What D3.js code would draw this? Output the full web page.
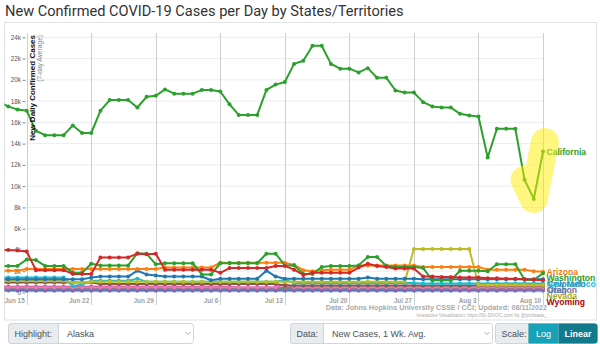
<!DOCTYPE html>
<html><head><meta charset="utf-8">
<script src="https://cdn.jsdelivr.net/npm/d3@7/dist/d3.min.js"></script>
<style>
html,body{margin:0;padding:0;background:#fff;overflow:hidden;}
svg{display:block;font-family:"Liberation Sans",Arial,sans-serif;}
</style></head><body>
<svg id="chart" width="600" height="344"></svg>
<script>
// ---------------- DATA ----------------
const firstDay = "2022-06-12";
const dayCount = 60;
const xTickDates = ["2022-06-15","2022-06-22","2022-06-29","2022-07-06","2022-07-13","2022-07-20","2022-07-27","2022-08-03","2022-08-10"];
const xTickLabels = ["Jun 15","Jun 22","Jun 29","Jul 6","Jul 13","Jul 20","Jul 27","Aug 3","Aug 10"];
const yTickValues = [0,2000,4000,6000,8000,10000,12000,14000,16000,18000,20000,22000,24000];
const yTickLabels = ["0","2k","4k","6k","8k","10k","12k","14k","16k","18k","20k","22k","24k"];

const california = [17900,17500,17200,17100,15200,14800,14800,14800,15700,15000,
 15000,17100,18100,18100,18100,17400,18400,18500,19100,18700,
 18700,18700,19050,19050,18900,17700,16700,16700,16700,19050,
 19550,19800,21500,21800,23200,23200,21500,21050,21050,20700,
 21100,20200,20200,19000,18800,18800,17900,17500,17400,17400,
 16800,16650,16550,12700,15400,15400,15400,10600,8800,13250];

const hawaii = [4000,4000,3950,3850,2100,2100,2100,2100,1750,1750,
 1750,3300,3300,3300,3300,3650,3600,3650,2150,2150,
 2150,2150,2150,2150,1850,2300,2300,2300,2300,2300,
 2500,2500,2150,1650,1850,1850,1850,1850,1850,2350,
 2700,2500,2400,2250,2250,2250,1500,1500,1450,1450,
 1400,1400,1400,1350,1350,1300,1300,1250,1200,1150];

const arizona = [2050,2050,2050,2200,2200,2200,2200,2200,2200,2200,
 2200,2200,2200,2200,2200,2200,2200,2200,2350,2350,
 2350,2350,2350,2350,2800,2800,2800,2800,2800,2800,
 2800,2800,2600,2100,2000,2100,2150,2150,2150,2550,
 2550,2550,2550,2550,2550,2550,2400,2400,2400,2400,
 2400,2400,2400,2150,2150,2150,2150,2150,2000,1950];

const washington = [2500,2500,2500,3100,3050,2500,2500,2500,1850,1850,
 2700,2550,2550,2550,2550,3700,3650,2650,2750,2750,
 2750,2750,1700,1700,2750,2750,2750,2750,2750,3650,
 3650,2550,2550,1750,1750,2400,2500,2500,2500,2550,
 3350,3350,2500,2400,2400,2400,2300,1150,1150,1150,
 2050,2050,2050,2000,2650,2650,2650,1200,1200,1800];

const colorado = [1250,1250,1250,1250,1250,1250,1250,1250,1250,1250,
 1400,1500,1500,1500,1500,2050,1700,1600,1500,1500,
 1500,1500,1500,1150,1300,1300,1300,1300,1300,2050,
 1500,1300,1300,1300,1300,1300,1300,1300,1300,1300,
 1400,1300,1300,1300,1300,1300,1250,1250,1250,1250,
 1250,1250,1250,1250,1250,1250,1250,1250,1250,1250];

const newMexico = [1400,1400,1400,1400,1400,1400,1400,1400,600,750,
 1100,1100,1100,1100,1100,1300,1000,1000,1000,1000,
 1000,1000,1000,1000,1000,1000,1000,1000,1000,1000,
 1000,1200,900,900,900,900,900,900,900,900,
 900,900,900,900,900,900,850,850,850,850,
 850,850,850,850,850,850,850,850,850,850];

const nevada = [1100,1100,1100,1100,1100,1100,1100,1100,950,950,
 1000,1000,1000,1000,1000,1000,1000,1000,1000,1000,
 1000,1000,1000,1000,1000,1000,1000,1000,1000,1000,
 1000,1000,1000,1000,1000,1000,1000,1000,1000,1000,
 1000,1000,1000,1000,1000,4100,4100,4100,4100,4100,
 4100,4100,700,700,700,700,700,700,700,700];

const idaho = [950,950,950,950,950,950,950,950,950,950,
 950,800,800,800,800,800,800,800,800,800,
 800,800,800,800,800,800,800,800,800,800,
 800,650,650,650,650,650,650,650,650,650,
 650,650,650,650,650,650,650,650,650,650,
 650,650,650,650,650,650,650,650,650,650];

const montana = [500,500,500,500,500,500,500,500,500,500,
 500,500,500,500,500,500,500,500,500,500,
 500,500,500,500,500,500,500,500,500,500,
 500,800,500,500,500,500,500,500,500,500,
 500,500,500,500,500,500,500,500,500,500,
 500,500,500,500,500,500,500,500,500,500];

const utah = [420,420,420,420,420,420,420,420,420,420,
 420,420,420,420,420,420,420,420,420,420,
 420,420,420,420,420,420,420,420,420,420,
 420,420,420,420,420,420,420,420,420,420,
 420,420,420,420,420,420,420,420,420,420,
 420,420,420,420,420,420,420,420,420,420];

const wyoming = [550,550,550,550,550,550,550,550,550,550,
 550,550,550,550,550,550,550,550,550,550,
 550,550,550,550,550,550,450,450,450,450,
 450,450,450,450,450,450,450,450,450,450,
 450,450,450,450,450,450,450,450,450,450,
 450,450,450,450,450,450,450,450,450,450];

const oregon = [280,280,280,280,280,280,280,280,280,280,
 280,280,280,280,280,280,280,280,280,280,
 280,280,280,280,280,280,280,280,280,280,
 280,280,280,280,280,280,280,280,280,280,
 280,280,280,280,280,280,280,280,280,280,
 250,250,250,250,250,250,250,250,250,250];

const alaska = [180,180,180,180,180,180,180,180,180,180,
 180,180,180,180,180,180,180,180,180,180,
 180,180,180,180,180,180,180,180,180,180,
 180,180,180,180,180,180,180,180,180,180,
 180,180,180,180,180,180,180,180,180,180,
 180,180,180,180,180,180,180,180,180,180];

const seriesNames  = ["Alaska","Oregon","Wyoming","Utah","Montana","Idaho","New Mexico","Nevada","Colorado","Arizona","Washington","Hawaii","California"];
const seriesValues = [alaska,oregon,wyoming,utah,montana,idaho,newMexico,nevada,colorado,arizona,washington,hawaii,california];
const seriesColors = ["#1f77b4","#9467bd","#d62728","#7f7f7f","#e377c2","#8c564b","#17becf","#bcbd22","#1f77b4","#ff7f0e","#2ca02c","#d62728","#2ca02c"];

const labelRows = [["Arizona"],["Washington"],["New Mexico","Colorado"],["Oregon","Utah"],["Nevada"],["Wyoming"]];
const labelColors = {"Arizona":"#f47a10","Washington":"#2a9a2a","New Mexico":"#17becf","Colorado":"#3a8fc4","Oregon":"#7d6aa8","Utah":"#5b7fa8","Nevada":"#a8a81c","Wyoming":"#b00000"};
const highlightName = "California";

// ---------------- DRAW ----------------
const svg = d3.select("#chart");
const parse = d3.timeParse("%Y-%m-%d");
const dates = d3.timeDay.range(parse(firstDay), d3.timeDay.offset(parse(firstDay), dayCount));

const x = d3.scaleTime().domain([parse(xTickDates[0]), parse(xTickDates[xTickDates.length-1])]).range([26.7, 543]);
const y = d3.scaleLinear().domain([0, 24000]).range([292.5, 37.3]);

// title
svg.append("text").attr("x",5).attr("y",15.5).attr("font-family","Roboto, 'Liberation Sans', sans-serif")
  .attr("font-size",14.6).attr("fill","#333").text("New Confirmed COVID-19 Cases per Day by States/Territories");

// container
svg.append("rect").attr("x",4.5).attr("y",22.5).attr("width",592).attr("height",297.5)
  .attr("fill","none").attr("stroke","#dfe2e6");

// horizontal grid
svg.append("g").selectAll("line").data(yTickValues).join("line")
  .attr("x1",26).attr("x2",543).attr("y1",d=>y(d)).attr("y2",d=>y(d))
  .attr("stroke","#ececf0").attr("stroke-width",1);

// vertical grid
svg.append("g").selectAll("line").data(xTickDates).join("line")
  .attr("x1",d=>Math.round(x(parse(d)))+0.5).attr("x2",d=>Math.round(x(parse(d)))+0.5)
  .attr("y1",y(24400)).attr("y2",305).attr("stroke","#cfcfcf").attr("stroke-width",1);

// y axis
const yAxis = d3.axisLeft(y).tickValues(yTickValues).tickSize(3).tickFormat((d,i)=>yTickLabels[i]);
const ya = svg.append("g").attr("transform","translate(25.5,0)").call(yAxis);
ya.select(".domain").remove();
ya.selectAll(".tick line").attr("stroke","#888");
ya.selectAll(".tick text").attr("font-size",6.3).attr("fill","#555").attr("x",-4.5).attr("font-family","'Liberation Sans',Arial,sans-serif");

// x labels
svg.append("g").selectAll("text").data(xTickDates).join("text")
  .attr("x",d=>x(parse(d))-2).attr("y",302.5).attr("text-anchor","end")
  .attr("font-size",6.4).attr("font-weight","bold").attr("fill","#a0a0a0").text((d,i)=>xTickLabels[i]);

// lines
const line = d3.line().x((d,i)=>x(dates[i])).y(d=>y(d));
const clipId = "plotclip";
svg.append("clipPath").attr("id",clipId).append("rect").attr("x",4.5).attr("y",23).attr("width",560).attr("height",300);
const lg = svg.append("g").attr("clip-path",`url(#${clipId})`);
seriesValues.forEach((vals,k)=>{
  const g = lg.append("g");
  g.append("path").datum(vals).attr("d",line).attr("fill","none")
    .attr("stroke",seriesColors[k]).attr("stroke-width",2).attr("stroke-linejoin","round");
  g.selectAll("circle").data(vals).join("circle")
    .attr("cx",(d,i)=>x(dates[i])).attr("cy",d=>y(d)).attr("r",2).attr("fill",seriesColors[k]);
});

// y title
svg.append("text").attr("transform",`translate(34.5,35) rotate(-90)`).attr("text-anchor","end")
  .attr("font-size",8).attr("font-weight","bold").attr("fill","#111").text("New Daily Confirmed Cases");
svg.append("text").attr("transform",`translate(41.8,35) rotate(-90)`).attr("text-anchor","end")
  .attr("font-size",6.6).attr("fill","#888").text("(7-day Average)");

// end labels for small series
const last = dates.length-1;
let prevY = -Infinity;
labelRows.forEach(row=>{
  const firstVals = seriesValues[seriesNames.indexOf(row[0])];
  let ly = Math.max(y(firstVals[last]), prevY + 6);
  prevY = ly;
  row.forEach((name,j)=>{
    svg.append("text").attr("x",x(dates[last])+3.5 + j*1.2).attr("y",ly + j*0.6).attr("dy","0.35em")
      .attr("font-size",8.6).attr("font-weight","bold").attr("fill",labelColors[name]).text(name);
  });
});

// highlighted series label
const hv = seriesValues[seriesNames.indexOf(highlightName)];
svg.append("text").attr("x",x(dates[last])+3.5).attr("y",y(hv[last])).attr("dy","0.35em")
  .attr("font-size",8.6).attr("font-weight","bold").attr("fill","#2ca02c").text(highlightName);

// highlighter blob over last three points
const p = [last-2,last-1,last].map(i=>[x(dates[i]), y(hv[i])]);
const ext = [p[2][0] + (p[2][0]-p[1][0])*0.2, p[2][1] + (p[2][1]-p[1][1])*0.2];
svg.append("path").attr("d", d3.line()([...p, ext])).attr("fill","none")
  .attr("stroke","#ffee00").attr("stroke-opacity",0.5).attr("stroke-width",28)
  .attr("stroke-linecap","round").attr("stroke-linejoin","round");

// credits
svg.append("text").attr("x",547).attr("y",310).attr("text-anchor","end").attr("font-size",7.2)
  .attr("font-weight","bold").attr("fill","#aaa").text("Data: Johns Hopkins University CSSE / CCI; Updated: 08/11/2022");
svg.append("text").attr("x",547).attr("y",316.5).attr("text-anchor","end").attr("font-size",4.6)
  .attr("fill","#aaa").text("Interactive Visualization: https://91-DIVOC.com/ by @profwade_");

// controls
const ctl = svg.append("g").attr("font-size",9).attr("fill","#495057");
function group(x0,labelW,totalW,label,value){
  ctl.append("rect").attr("x",x0+0.5).attr("y",323.5).attr("width",totalW).attr("height",20).attr("rx",3)
    .attr("fill","#fff").attr("stroke","#ced4da");
  ctl.append("path").attr("d",`M${x0+3.5},323.5H${x0+labelW+0.5}V343.5H${x0+3.5}a3,3 0 0 1 -3,-3V326.5a3,3 0 0 1 3,-3Z`)
    .attr("fill","#e9ecef").attr("stroke","#ced4da");
  ctl.append("text").attr("x",x0+6.5).attr("y",336.5).text(label);
  if(value!==null){
    ctl.append("text").attr("x",x0+labelW+9).attr("y",336.5).text(value);
    const cx = x0+totalW-5;
    ctl.append("path").attr("d",`M${cx-2.5},332 L${cx},334.5 L${cx+2.5},332`).attr("fill","none").attr("stroke","#999").attr("stroke-width",0.8);
  }
}
group(8,50,185,"Highlight:","Alaska");
group(290,33,202,"Data:","New Cases, 1 Wk. Avg.");
group(495,33,102,"Scale:",null);
ctl.append("rect").attr("x",528.5).attr("y",323.5).attr("width",30).attr("height",20).attr("fill","#17a2b8");
ctl.append("path").attr("d","M558.5,323.5H594.5a3,3 0 0 1 3,3V340.5a3,3 0 0 1 -3,3H558.5Z").attr("fill","#117a8b");
ctl.append("text").attr("x",543.5).attr("y",336.5).attr("text-anchor","middle").attr("fill","#fff").text("Log");
ctl.append("text").attr("x",578).attr("y",336.5).attr("text-anchor","middle").attr("fill","#fff").attr("font-weight","bold").text("Linear");
</script>
</body></html>
